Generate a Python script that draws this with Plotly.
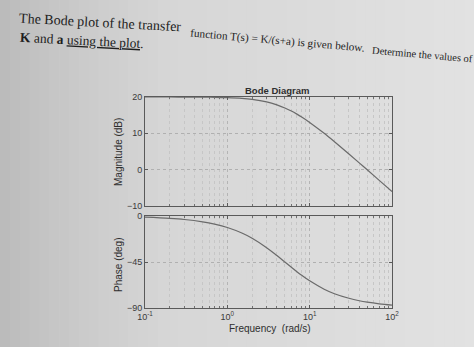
import plotly.graph_objects as go
from plotly.subplots import make_subplots

# ---- data ----
freq = [0.1, 0.2, 0.3, 0.5, 0.7, 1, 1.5, 2, 3, 4, 5, 6, 7, 8, 10, 15, 20, 30, 40, 50, 70, 100]
mag_db = [20.0, 20.0, 19.98, 19.96, 19.92, 19.83, 19.63, 19.36, 18.67, 17.85, 16.99, 16.13,
          15.29, 14.49, 13.01, 10.0, 7.7, 4.32, 1.87, -0.04, -2.94, -6.03]
phase_deg = [-1.1, -2.3, -3.4, -5.7, -8.0, -11.3, -16.7, -21.8, -31.0, -38.7, -45.0, -50.2,
             -54.5, -58.0, -63.4, -71.6, -76.0, -80.5, -82.9, -84.3, -85.9, -87.1]
x_tickvals = [0.1, 1, 10, 100]
x_ticktext = ["10<sup>-1</sup>", "10<sup>0</sup>", "10<sup>1</sup>", "10<sup>2</sup>"]
mag_ticks = [-10, 0, 10, 20]
phase_ticks = [-90, -45, 0]

W, H = 474, 347
L, R, T, B = 145, 82, 97, 39
PH = H - T - B
PW = W - L - R

fig = make_subplots(rows=2, cols=1, shared_xaxes=False)

curve = dict(color="#6a6a6a", width=1.2, shape="spline")
fig.add_trace(go.Scatter(x=freq, y=mag_db, mode="lines", line=curve, showlegend=False), row=1, col=1)
fig.add_trace(go.Scatter(x=freq, y=phase_deg, mode="lines", line=curve, showlegend=False), row=2, col=1)

axis_font = dict(family="Liberation Sans, Arial, sans-serif", size=9, color="#3a3a3a")
common_x = dict(type="log", range=[-1, 2], tickvals=x_tickvals, ticktext=x_ticktext,
                showline=True, linecolor="#5a5a5a", linewidth=1, mirror="ticks",
                ticks="inside", ticklen=3, tickcolor="#5a5a5a",
                showgrid=True, gridcolor="#b4b4b4", griddash="dot", gridwidth=1,
                minor=dict(dtick="D1", showgrid=True, gridcolor="#c6c6c6", griddash="dot",
                           ticks="inside", ticklen=2, tickcolor="#707070"),
                zeroline=False, tickfont=axis_font)
fig.update_xaxes(**common_x)
fig.update_xaxes(showticklabels=False, row=1, col=1)

common_y = dict(showline=True, linecolor="#5a5a5a", linewidth=1, mirror="ticks",
                ticks="inside", ticklen=3, tickcolor="#5a5a5a",
                showgrid=True, gridcolor="#b0b0b0", griddash="dot", zeroline=False,
                tickfont=axis_font)
fig.update_yaxes(**common_y)
fig.update_yaxes(range=[-10, 20], tickvals=mag_ticks, domain=[(H - B - 206) / PH, 1], row=1, col=1)
fig.update_yaxes(range=[-90, 0], tickvals=phase_ticks, domain=[0, (H - B - 216) / PH], row=2, col=1)

# paper gradient (photo background), darker on the left
c_left, c_mid, c_right = 184, 214, 226
n = 48
shapes = []
for i in range(n):
    f = (i + 0.5) / n
    if f < 0.35:
        v = c_left + (c_mid - c_left) * (f / 0.35) ** 0.7
    else:
        v = c_mid + (c_right - c_mid) * (f - 0.35) / 0.65
    v = int(round(v))
    shapes.append(dict(type="rect", xref="paper", yref="paper",
                       x0=(i * W / n - L) / PW, x1=((i + 1) * W / n - L + 0.5) / PW,
                       y0=-B / PH - 0.05, y1=1 + T / PH + 0.05,
                       fillcolor=f"rgb({v},{v},{v})", line=dict(width=0), layer="below"))

def px(x):
    return (x - L) / PW

def py(y):
    return (H - B - y) / PH

serif = "Liberation Serif, Times New Roman, serif"
sans = "Liberation Sans, Arial, sans-serif"
txt = "#1e1e1e"
ann = [
    dict(text="The Bode plot of the transfer", x=px(100), y=py(22), textangle=3,
         font=dict(family=serif, size=14, color=txt)),
    dict(text="function T(s) = K/(s+a) is given below.", x=px(277), y=py(41), textangle=5,
         font=dict(family=serif, size=11.2, color=txt)),
    dict(text="Determine the values of", x=px(422), y=py(54), textangle=5,
         font=dict(family=serif, size=10.5, color=txt)),
    dict(text="<b>K</b> and <b>a</b> <u>using the plot</u>.", x=px(82), y=py(40), textangle=3,
         font=dict(family=serif, size=13.5, color=txt)),
    dict(text="<b>Bode Diagram</b>", x=px(277), y=py(90),
         font=dict(family=sans, size=9.5, color="#2e2e2e")),
    dict(text="Magnitude (dB)", x=px(118), y=py(152), textangle=-90,
         font=dict(family=sans, size=10, color="#2e2e2e")),
    dict(text="Phase (deg)", x=px(118), y=py(265), textangle=-90,
         font=dict(family=sans, size=10, color="#2e2e2e")),
    dict(text="Frequency  (rad/s)", x=px(270), y=py(328),
         font=dict(family=sans, size=10, color="#2e2e2e")),
]
for a in ann:
    a.update(xref="paper", yref="paper", showarrow=False, xanchor="center", yanchor="middle")

fig.update_layout(
    width=W, height=H,
    margin=dict(l=L, r=R, t=T, b=B, pad=0),
    paper_bgcolor="#d4d4d4", plot_bgcolor="rgba(0,0,0,0)",
    shapes=shapes, annotations=ann, showlegend=False,
)

fig.write_html("out.html")
